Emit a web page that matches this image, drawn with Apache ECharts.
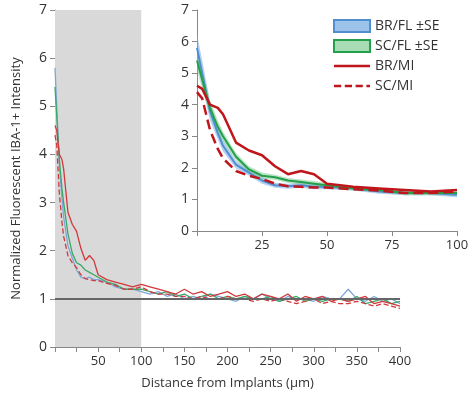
<!DOCTYPE html><html><head><meta charset="utf-8">
<script src="https://cdn.jsdelivr.net/npm/echarts@6/dist/echarts.min.js"></script>
<style>html,body{margin:0;padding:0;background:#fff}#c{width:474px;height:405px}</style></head>
<body><div id="c"></div><script>
const xs=[0,2,5,8,10,15,20,25,30,35,40,45,50,60,70,80,90,100,110,120,130,140,150,160,170,180,190,200,210,220,230,240,250,260,270,280,290,300,310,320,330,340,350,360,370,380,390,400];
const brFL=[5.8,5.0,3.8,3.1,2.7,2.1,1.85,1.6,1.45,1.42,1.45,1.4,1.4,1.35,1.25,1.2,1.2,1.15,1.1,1.15,1.05,1.1,1.0,1.05,1.0,1.1,1.05,1.0,0.95,1.05,1.0,1.1,1.0,0.95,1.05,1.0,1.0,0.95,1.05,1.0,1.0,1.2,1.0,0.95,1.05,0.95,1.0,0.9];
const scFL=[5.4,4.8,3.9,3.3,3.0,2.35,1.95,1.75,1.7,1.6,1.55,1.5,1.45,1.35,1.3,1.2,1.2,1.2,1.15,1.1,1.15,1.05,1.1,1.0,1.05,1.1,1.0,1.05,1.0,1.05,1.0,1.0,1.05,0.95,1.0,1.05,0.95,1.0,0.95,1.0,1.0,0.95,1.05,0.9,0.95,1.0,0.9,0.95];
const brMI=[4.6,4.5,4.0,3.9,3.7,2.8,2.55,2.4,2.05,1.8,1.9,1.8,1.5,1.4,1.35,1.3,1.25,1.3,1.25,1.2,1.15,1.1,1.2,1.1,1.15,1.05,1.1,1.15,1.05,1.1,1.0,1.1,1.05,1.0,1.1,0.95,1.05,1.0,1.05,0.95,1.0,0.95,1.0,1.05,0.9,0.95,0.9,0.85];
const scMI=[4.4,4.2,3.2,2.6,2.3,1.9,1.75,1.65,1.5,1.42,1.4,1.38,1.38,1.32,1.28,1.2,1.2,1.25,1.15,1.1,1.1,1.05,1.05,1.0,1.05,1.0,1.0,1.05,1.0,1.0,0.95,1.0,0.95,1.0,0.95,0.9,0.95,1.0,0.9,0.95,0.9,0.9,0.95,0.9,0.85,0.9,0.85,0.8];
const seBR=[0.45,0.4,0.3,0.2,0.18,0.12,0.1,0.1,0.08,0.08,0.08,0.08,0.08,0.07,0.07,0.07,0.07,0.08];
const seSC=[0.3,0.3,0.25,0.2,0.15,0.12,0.1,0.1,0.08,0.08,0.08,0.08,0.07,0.07,0.07,0.07,0.07,0.08];
const nIn=18;
const pairs=(a,n)=>a.slice(0,n).map((v,i)=>[xs[i],v]);
const F='Open Sans';
const c=echarts.init(document.getElementById('c'));
const blue='#4f8fd0',green='#22a04a',red='#c0161b';
function band(a,se,fill){
 const data=se.map((s,i)=>[xs[i],a[i]-s,a[i]+s]);
 return {type:'custom',xAxisIndex:1,yAxisIndex:1,silent:true,z:2,data:data,
  renderItem:(p,api)=>{ if(p.dataIndex!==0) return;
   const up=data.map(d=>api.coord([d[0],d[2]])), lo=data.slice().reverse().map(d=>api.coord([d[0],d[1]]));
   return {type:'polygon',shape:{points:up.concat(lo)},style:{fill:fill}};}};
}
const lineIcon='path://M0,4H40V7H0Z';
const dashIcon='path://M0,4H8V7H0ZM12,4H20V7H12ZM24,4H32V7H24ZM36,4H40V7H36Z';
c.setOption({animation:false,
 legend:{orient:'vertical',left:328,top:14,itemWidth:36,itemHeight:12,itemGap:6,textStyle:{fontFamily:F,fontSize:14,color:'#333'},
  data:[{name:'BR/FL ±SE',icon:'rect',itemStyle:{color:'#9cc3ea',borderColor:blue,borderWidth:2}},{name:'SC/FL ±SE',icon:'rect',itemStyle:{color:'#a8dcb4',borderColor:green,borderWidth:2}},
   {name:'BR/MI',icon:lineIcon,itemStyle:{color:red}},{name:'SC/MI',icon:dashIcon,itemStyle:{color:red}}]},
 grid:[{left:55,right:74,top:10,bottom:58},{left:197,right:17,top:10,bottom:174,backgroundColor:'#fff',show:true,borderWidth:0}],
 xAxis:[{type:'value',min:0,max:400,interval:25,name:'Distance from Implants (µm)',nameLocation:'middle',nameGap:30,nameTextStyle:{fontFamily:F,fontSize:13,color:'#333'},
   axisLine:{lineStyle:{color:'#888'}},axisTick:{lineStyle:{color:'#888'}},splitLine:{show:false},
   axisLabel:{fontFamily:F,fontSize:13,color:'#333',formatter:v=>(v>0&&v%50===0)?v:''}},
  {type:'value',gridIndex:1,min:0,max:100,interval:25,axisLine:{lineStyle:{color:'#888'}},axisTick:{lineStyle:{color:'#888'}},splitLine:{show:false},
   axisLabel:{fontFamily:F,fontSize:13,color:'#333',formatter:v=>v>0?v:''}}],
 yAxis:[{type:'value',min:0,max:7,interval:1,name:'Normalized Fluorescent IBA-1+ Intensity',nameLocation:'middle',nameGap:32,nameTextStyle:{fontFamily:F,fontSize:13,color:'#333'},
   axisLine:{show:true,lineStyle:{color:'#888'}},axisTick:{show:true,lineStyle:{color:'#888'}},splitLine:{show:false},axisLabel:{fontFamily:F,fontSize:14,color:'#333'}},
  {type:'value',gridIndex:1,min:0,max:7,interval:1,axisLine:{show:true,lineStyle:{color:'#888'}},axisTick:{show:true,lineStyle:{color:'#888'}},splitLine:{show:false},axisLabel:{fontFamily:F,fontSize:14,color:'#333'}}],
 series:[
  {type:'line',name:'base',symbol:'none',data:[],markArea:{silent:true,itemStyle:{color:'#d9d9d9'},data:[[{xAxis:0},{xAxis:100}]]},
   markLine:{silent:true,symbol:'none',label:{show:false},lineStyle:{color:'#666',width:2,type:'solid'},data:[{yAxis:1}]}},
  {type:'line',symbol:'none',z:3,lineStyle:{color:'#7fa6d8',width:1.3},data:pairs(brFL,xs.length)},
  {type:'line',symbol:'none',z:3,lineStyle:{color:'#3aa868',width:1.3},data:pairs(scFL,xs.length)},
  {type:'line',symbol:'none',z:3,lineStyle:{color:'#d0393c',width:1.3},data:pairs(brMI,xs.length)},
  {type:'line',symbol:'none',z:3,lineStyle:{color:'#d0393c',width:1.3,type:'dashed'},data:pairs(scMI,xs.length)},
  band(brFL,seBR,'rgba(120,170,225,0.55)'),band(scFL,seSC,'rgba(120,200,140,0.5)'),
  {type:'line',name:'BR/FL ±SE',xAxisIndex:1,yAxisIndex:1,symbol:'none',z:3,color:blue,lineStyle:{color:blue,width:2},data:pairs(brFL,nIn)},
  {type:'line',name:'SC/FL ±SE',xAxisIndex:1,yAxisIndex:1,symbol:'none',z:3,color:green,lineStyle:{color:green,width:2},data:pairs(scFL,nIn)},
  {type:'line',name:'BR/MI',xAxisIndex:1,yAxisIndex:1,symbol:'none',z:3,color:red,lineStyle:{color:red,width:2.5},data:pairs(brMI,nIn)},
  {type:'line',name:'SC/MI',xAxisIndex:1,yAxisIndex:1,symbol:'none',z:3,color:red,lineStyle:{color:red,width:2.5,type:'dashed'},data:pairs(scMI,nIn)}
 ]});
</script></body></html>
